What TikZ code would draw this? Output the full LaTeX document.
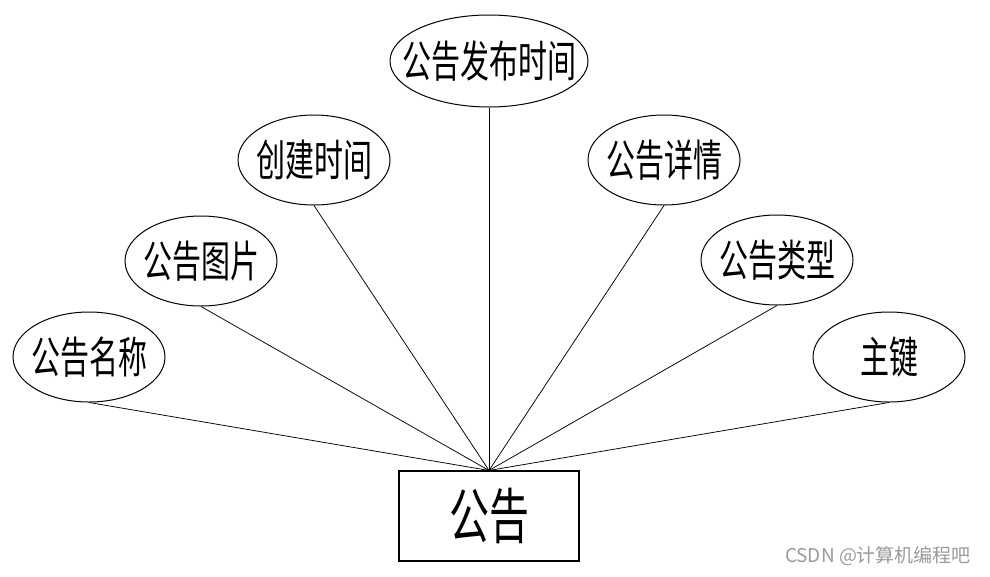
\documentclass[tikz,border=0pt]{standalone}
\usepackage{fontspec}
\newfontfamily\cjk{Noto Sans CJK SC}
\usepackage{graphicx}
\usepackage{xcolor}
\definecolor{wmgray}{HTML}{9A9A9A}
\usepackage{tikz}
\usetikzlibrary{shapes.geometric}
\newcommand{\vstr}[1]{\makebox[0pt]{\scalebox{1}[1.5]{#1}}}

\begin{document}
\begin{tikzpicture}[x=1pt,y=-1pt]
\tikzset{
 attr/.style={draw,line width=1pt,ellipse,minimum width=152pt,minimum height=90pt,inner sep=0pt,font=\cjk\fontsize{29}{30}\selectfont},
 ent/.style={draw,line width=1.1pt,rectangle,minimum width=180pt,minimum height=90pt,inner sep=0pt,font=\cjk\fontsize{40}{42}\selectfont},
 link/.style={line width=0.75pt}
}
\useasboundingbox (0,0) rectangle (990,576);
\node[ent] (gg) at (489,516) {\vstr{公告}};
\node[attr] (mc) at (89,357) {\vstr{公告名称}};
\node[attr] (tp) at (201,261) {\vstr{公告图片}};
\node[attr] (cj) at (314,160) {\vstr{创建时间}};
\node[attr,minimum width=198pt,minimum height=92pt] (fb) at (489,61) {\vstr{公告发布时间}};
\node[attr] (xq) at (664,160) {\vstr{公告详情}};
\node[attr] (lx) at (777,260) {\vstr{公告类型}};
\node[attr] (zj) at (889,357) {\vstr{主键}};
\foreach \i in {mc,tp,cj,fb,xq,lx,zj}{\draw[link] (\i.south)--(gg.north);}
\node[font=\cjk\fontsize{19}{20}\selectfont,text=wmgray] (wm) at (878,556) {CSDN @计算机编程吧};
\end{tikzpicture}
\end{document}
